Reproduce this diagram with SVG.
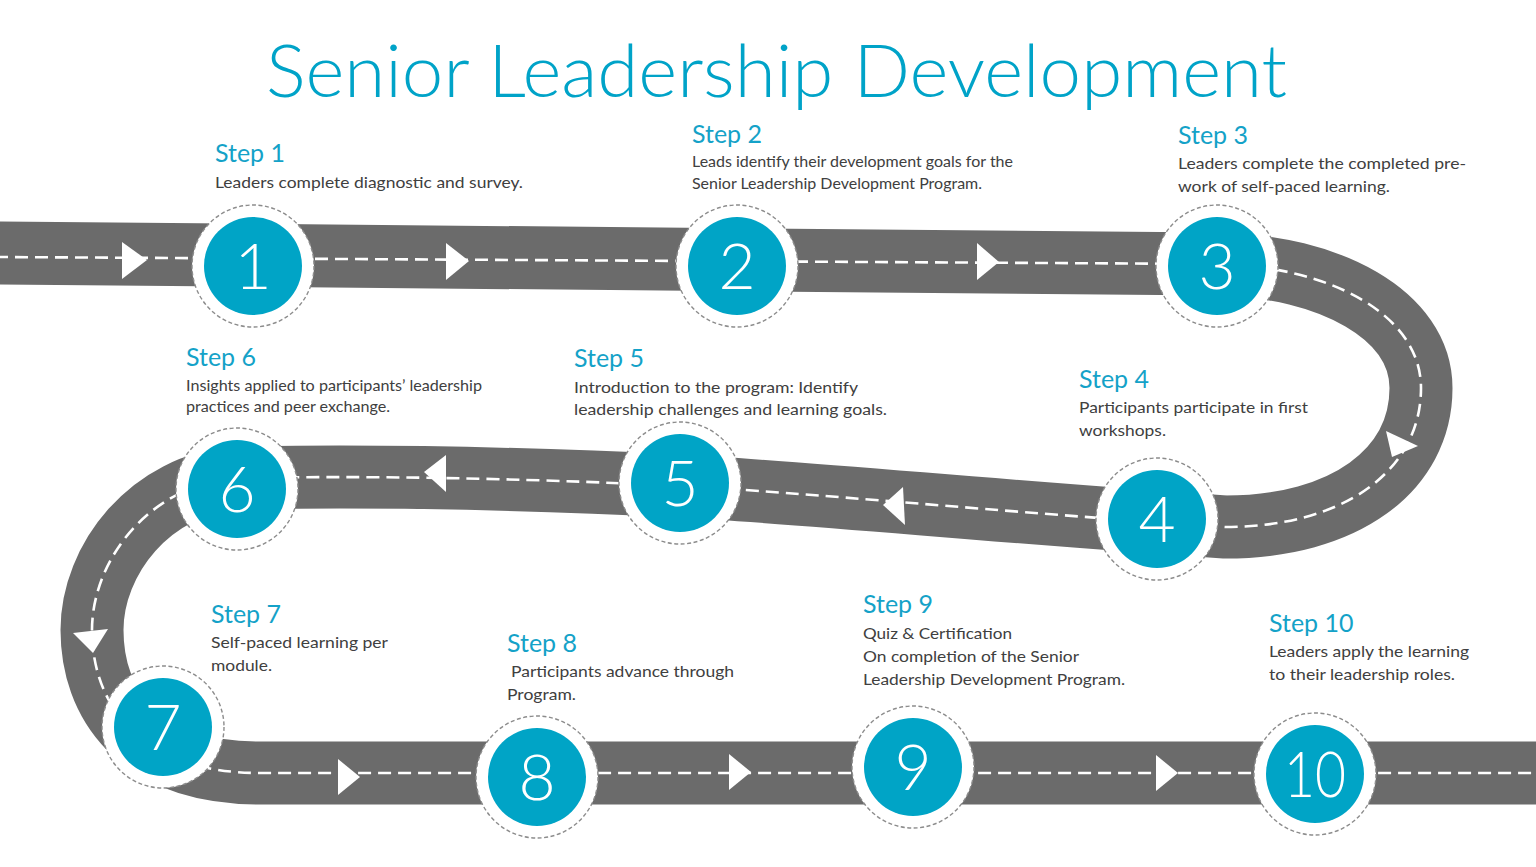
<svg xmlns="http://www.w3.org/2000/svg" width="1536" height="867" viewBox="0 0 1536 867">
<defs>
<style>
.road{fill:none;stroke:#6b6b6b;stroke-width:63;stroke-linejoin:round}
.lane{fill:none;stroke:#ffffff;stroke-width:2.6;stroke-dasharray:13 7}
.arr{fill:#ffffff}
.ring{fill:#ffffff;stroke:#8c8c8c;stroke-width:1.4;stroke-dasharray:4 2.5}
.disc{fill:#00a4c6}
.num{font-family:Lato,"Open Sans","Liberation Sans",sans-serif;font-weight:300;font-size:64px;fill:#ffffff;text-anchor:middle}
.step{font-family:Lato,"Open Sans","Liberation Sans",sans-serif;font-size:25px;fill:#14a2c8}
.desc{font-family:Lato,"Open Sans","Liberation Sans",sans-serif;font-size:16px;fill:#404040}
.small{font-size:15px}
.title{font-family:Lato,"Open Sans","Liberation Sans",sans-serif;font-weight:300;font-size:72px;fill:#00a3c8}
</style>
</defs>
<rect width="1536" height="867" fill="#ffffff"/>
<text class="title" x="266" y="97" textLength="1021" lengthAdjust="spacingAndGlyphs">Senior Leadership Development</text>

<g id="connectors">
<path class="road" d="M-5,253 L1217,264 C1330,266 1421,315 1421,388 C1421,470 1345,527 1225,527 C1000,512 800,492 680,486 C560,480 400,475 237,478 C150,484 92,560 92,630 C92,700 135,773 260,773 L1545,773"/>
<path class="lane" d="M-5,257 L1217,264 C1330,266 1421,315 1421,388 C1421,470 1345,527 1225,527 C1000,512 800,492 680,486 C560,480 400,475 237,478 C150,484 92,560 92,630 C92,700 135,773 260,773 L1545,773"/>
<polygon class="arr" points="122,242 122,279 147,260"/>
<polygon class="arr" points="446,243 446,280 469,261"/>
<polygon class="arr" points="977,243 977,280 999,262"/>
<polygon class="arr" points="1386,431 1418,446 1392,457"/>
<polygon class="arr" points="903,487 905,525 883,505"/>
<polygon class="arr" points="446,455 446,492 424,472"/>
<polygon class="arr" points="73,633 108,629 93,653"/>
<polygon class="arr" points="338,759 338,795 360,777"/>
<polygon class="arr" points="729,754 729,790 751,772"/>
<polygon class="arr" points="1156,755 1156,791 1178,773"/>
</g>

<g id="node-1">
<circle class="ring" cx="253" cy="266" r="61"/>
<circle class="disc" cx="253" cy="266" r="49"/>
<text class="num" x="253" y="289">1</text>
<text class="step" x="215" y="162">Step 1</text>
<text class="desc" x="215" y="188" textLength="308" lengthAdjust="spacingAndGlyphs">Leaders complete diagnostic and survey.</text>
</g>

<g id="node-2">
<circle class="ring" cx="737" cy="266" r="61"/>
<circle class="disc" cx="737" cy="266" r="49"/>
<text class="num" x="737" y="289">2</text>
<text class="step" x="692" y="143">Step 2</text>
<text class="desc small" x="692" y="167" textLength="321" lengthAdjust="spacingAndGlyphs">Leads identify their development goals for the</text>
<text class="desc small" x="692" y="189" textLength="290" lengthAdjust="spacingAndGlyphs">Senior Leadership Development Program.</text>
</g>

<g id="node-3">
<circle class="ring" cx="1217" cy="266" r="61"/>
<circle class="disc" cx="1217" cy="266" r="49"/>
<text class="num" x="1217" y="289">3</text>
<text class="step" x="1178" y="144">Step 3</text>
<text class="desc" x="1178" y="169" textLength="288" lengthAdjust="spacingAndGlyphs">Leaders complete the completed pre-</text>
<text class="desc" x="1178" y="192" textLength="212" lengthAdjust="spacingAndGlyphs">work of self-paced learning.</text>
</g>

<g id="node-4">
<circle class="ring" cx="1157" cy="519" r="61"/>
<circle class="disc" cx="1157" cy="519" r="49"/>
<text class="num" x="1157" y="542">4</text>
<text class="step" x="1079" y="388">Step 4</text>
<text class="desc" x="1079" y="413" textLength="229" lengthAdjust="spacingAndGlyphs">Participants participate in first</text>
<text class="desc" x="1079" y="436" textLength="87" lengthAdjust="spacingAndGlyphs">workshops.</text>
</g>

<g id="node-5">
<circle class="ring" cx="680" cy="483" r="61"/>
<circle class="disc" cx="680" cy="483" r="49"/>
<text class="num" x="680" y="506">5</text>
<text class="step" x="574" y="367">Step 5</text>
<text class="desc" x="574" y="393" textLength="284" lengthAdjust="spacingAndGlyphs">Introduction to the program: Identify</text>
<text class="desc" x="574" y="415" textLength="313" lengthAdjust="spacingAndGlyphs">leadership challenges and learning goals.</text>
</g>

<g id="node-6">
<circle class="ring" cx="237" cy="489" r="61"/>
<circle class="disc" cx="237" cy="489" r="49"/>
<text class="num" x="237" y="512">6</text>
<text class="step" x="186" y="366">Step 6</text>
<text class="desc small" x="186" y="391" textLength="296" lengthAdjust="spacingAndGlyphs">Insights applied to participants’ leadership</text>
<text class="desc small" x="186" y="412" textLength="204" lengthAdjust="spacingAndGlyphs">practices and peer exchange.</text>
</g>

<g id="node-7">
<circle class="ring" cx="163" cy="727" r="61"/>
<circle class="disc" cx="163" cy="727" r="49"/>
<text class="num" x="163" y="750">7</text>
<text class="step" x="211" y="623">Step 7</text>
<text class="desc" x="211" y="648" textLength="177" lengthAdjust="spacingAndGlyphs">Self-paced learning per</text>
<text class="desc" x="211" y="671" textLength="61" lengthAdjust="spacingAndGlyphs">module.</text>
</g>

<g id="node-8">
<circle class="ring" cx="537" cy="777" r="61"/>
<circle class="disc" cx="537" cy="777" r="49"/>
<text class="num" x="537" y="800">8</text>
<text class="step" x="507" y="652">Step 8</text>
<text class="desc" x="511" y="677" textLength="223" lengthAdjust="spacingAndGlyphs">Participants advance through</text>
<text class="desc" x="507" y="700" textLength="69" lengthAdjust="spacingAndGlyphs">Program.</text>
</g>

<g id="node-9">
<circle class="ring" cx="913" cy="767" r="61"/>
<circle class="disc" cx="913" cy="767" r="49"/>
<text class="num" x="913" y="790">9</text>
<text class="step" x="863" y="613">Step 9</text>
<text class="desc" x="863" y="639" textLength="149" lengthAdjust="spacingAndGlyphs">Quiz &amp; Certification</text>
<text class="desc" x="863" y="662" textLength="216" lengthAdjust="spacingAndGlyphs">On completion of the Senior</text>
<text class="desc" x="863" y="685" textLength="262" lengthAdjust="spacingAndGlyphs">Leadership Development Program.</text>
</g>

<g id="node-10">
<circle class="ring" cx="1315" cy="774" r="61"/>
<circle class="disc" cx="1315" cy="774" r="49"/>
<text class="num" x="1315" y="797" font-size="60" textLength="62" lengthAdjust="spacingAndGlyphs">10</text>
<text class="step" x="1269" y="632">Step 10</text>
<text class="desc" x="1269" y="657" textLength="200" lengthAdjust="spacingAndGlyphs">Leaders apply the learning</text>
<text class="desc" x="1269" y="680" textLength="186" lengthAdjust="spacingAndGlyphs">to their leadership roles.</text>
</g>
</svg>
